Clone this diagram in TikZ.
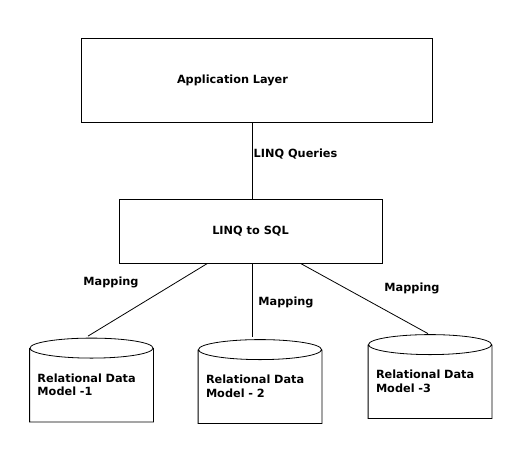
\documentclass[tikz,border=0pt]{standalone}
\usepackage{fontspec}
\setmainfont{DejaVu Sans}

\begin{document}
\begin{tikzpicture}[x=1pt, y=-1pt, line width=0.8pt,
   every node/.style={font=\bfseries\fontsize{11.3}{13.5}\selectfont},
   layer/.style={draw, rectangle, inner sep=0pt},
   store/.style={rectangle, minimum width=123pt, minimum height=73pt, inner sep=0pt,
      text width=108pt, align=left}]
   \useasboundingbox (0,0) rectangle (531,467);
   \node[layer, minimum width=351pt, minimum height=84pt, text width=159pt, align=left] (app) at (256.5,80) {Application Layer};
   \node[layer, minimum width=263pt, minimum height=64pt] (sql) at (250.5,231) {LINQ to SQL};
   \node[store] (db1) at (91.5,385) {Relational Data\\Model -1};
   \node[store] (db2) at (260,386.5) {Relational Data\\Model - 2};
   \node[store] (db3) at (430,381.5) {Relational Data\\Model -3};
   % database drums: open top ellipse, flat bottom
   \foreach \d in {db1,db2,db3}
      \draw (\d.north west) -- (\d.south west) -- (\d.south east) -- (\d.north east)
            (\d.north) ellipse [x radius=61.5pt, y radius=10pt];
   \draw (app.south -| 252,0) -- node[right, pos=0.42, xshift=-2pt] {LINQ Queries} (sql.north -| 252,0);
   \draw ([xshift=-43pt]sql.south) -- ([shift={(-3.5pt,12pt)}]db1.north);
   \draw ([xshift=1.5pt]sql.south) -- ([shift={(-8pt,13pt)}]db2.north);
   \draw ([xshift=50pt]sql.south) -- ([shift={(-2pt,11pt)}]db3.north);
   \node (map1) at (111,282) {Mapping};
   \node (map2) at (286,302) {Mapping};
   \node (map3) at (412,288) {Mapping};
\end{tikzpicture}
\end{document}
